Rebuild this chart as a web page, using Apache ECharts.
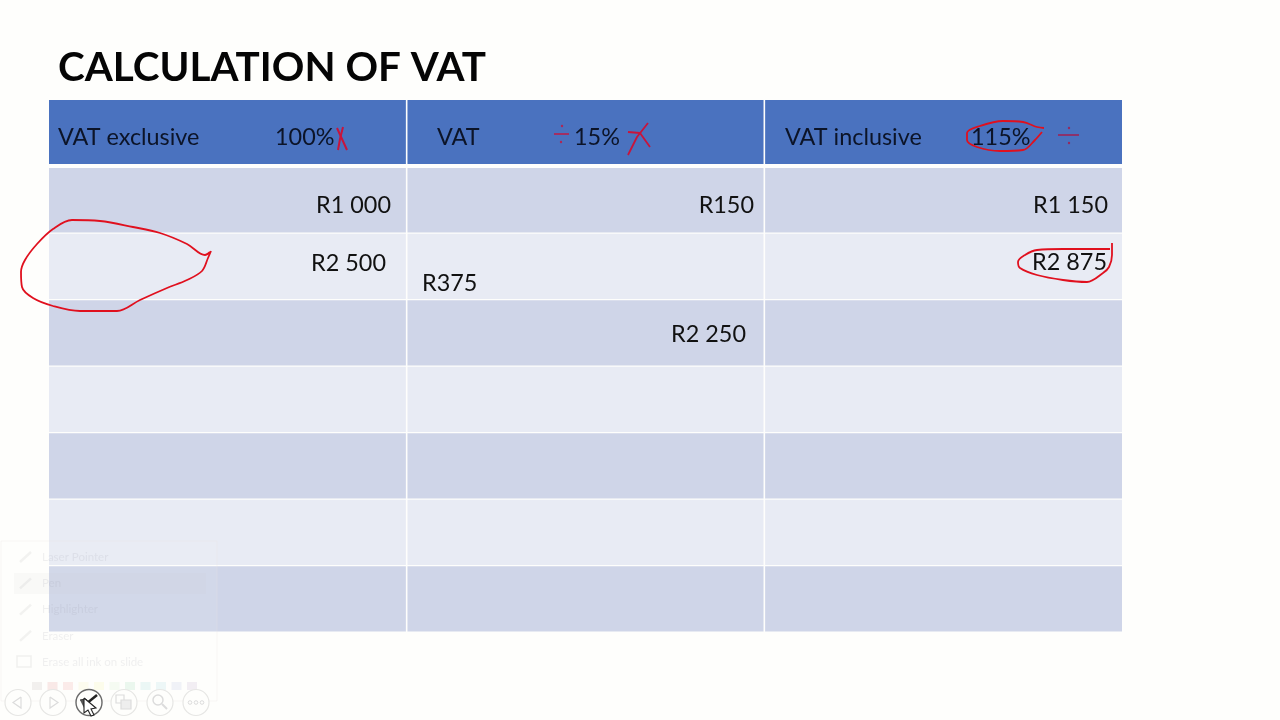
<!DOCTYPE html>
<html><head><meta charset="utf-8">
<style>html,body{margin:0;padding:0;background:#fefefc}#c{width:1280px;height:720px}</style>
<script src="https://cdn.jsdelivr.net/npm/echarts@6/dist/echarts.min.js"></script>
</head><body><div id="c"></div>
<script>
const titleText = 'CALCULATION OF VAT';
const columns = ['VAT exclusive', 'VAT', 'VAT inclusive'];
const rows = ['header', 'r1', 'r2', 'r3', 'r4', 'r5', 'r6', 'r7'];
const headerLabels = ['VAT exclusive', '100%', 'VAT', '15%', 'VAT inclusive', '115%'];
const amounts = ['R1 000', 'R150', 'R1 150', 'R2 500', 'R375', 'R2 875', 'R2 250'];
const headerAnchors = [[58,137],[275,137],[437,137],[574,137],[785,137],[971,137]];
const amountAnchors = [[391,205,'right'],[754,205,'right'],[1108,205,'right'],[386,263,'right'],[422,283,'left'],[1107,262,'right'],[746,334,'right']];
const bigLoop = [[210,252],[205,255],[187,244],[160,233],[133,227],[100,221],[72,220],[53,229],[37,244],[25,260],[21,272],[22,287],[33,298],[53,306],[80,311],[117,311],[140,300],[167,288],[187,280],[202,271],[208,258],[211,251]];
const loop115 = [[1044,128],[1037,127],[1023,122],[1003,121],[980,126],[967,133],[967,140],[977,147],[1000,151],[1023,150],[1035,140],[1042,132]];
const loop2875 = [[1112,243],[1112,255],[1109,267],[1103,273],[1087,282],[1063,280],[1037,275],[1020,268],[1018,262],[1025,255],[1037,250],[1063,249],[1110,249]];
const crossA1 = [[337,128],[342,139],[347,150]];
const crossA2 = [[343,127],[340,139],[338,150]];
const crossB1 = [[628,132],[640,133],[650,147]];
const crossB2 = [[648,123],[637,137],[628,155]];
const divA = [[554,134],[569,134]];
const divB = [[1058,135],[1079,135]];
const divDotsRed = [[562,126],[561,142]];
const divDotsDark = [[1069,128],[1069,143]];
const menuItems = ['Laser Pointer','Pen','Highlighter','Eraser','Erase all ink on slide'];
const swatches = ['#c8c0c0','#e8a0a0','#f0a8a8','#f8f0c0','#f8f8b0','#d8f0d0','#a8e0c0','#a8e0e0','#b0e0e8','#c0c8e8','#c8b8d8'];

const HEAD='#4a72bf', ODD='#cfd5e8', EVEN='#e8ebf4', INK='#e0101e', INKB='#c8143c';
const cells=[];
rows.forEach((r,ri)=>columns.forEach((c,ci)=>cells.push([ci,ri])));
const stroke=(d,color,w)=>({type:'line',xAxisIndex:1,yAxisIndex:1,data:d,smooth:d.length>3?0.35:false,showSymbol:false,silent:true,animation:false,z:6,lineStyle:{color:color,width:w||1.8}});
const font='Lato, Carlito, "Open Sans", sans-serif';
const textSeries=(texts,anch,color)=>({type:'custom',xAxisIndex:1,yAxisIndex:1,z:5,animation:false,silent:true,
  data:texts.map((t,i)=>[anch[i][0],anch[i][1],t,anch[i][2]||'left']),
  encode:{x:0,y:1},
  renderItem:(p,api)=>{const pt=api.coord([api.value(0),api.value(1)]);
    return {type:'text',style:{x:pt[0],y:pt[1],text:api.value(2),textAlign:api.value(3),textVerticalAlign:'middle',font:'23.4px '+font,fill:color}};}});

const gfx=[];
const FAINT='#e6e6e4';
gfx.push({type:'rect',shape:{x:1,y:541,width:216,height:160},style:{fill:'rgba(255,255,255,0.08)',stroke:'rgba(235,225,225,0.3)',lineWidth:1},z:20});
gfx.push({type:'rect',shape:{x:14,y:573,width:192,height:21},style:{fill:'rgba(200,200,205,0.09)'},z:20});
menuItems.forEach((m,i)=>gfx.push({type:'text',style:{x:42,y:557+i*26.3,text:m,font:'11.5px '+font,fill:'rgba(150,150,160,0.14)',textVerticalAlign:'middle'},z:21}));
[0,1,2,3].forEach(i=>gfx.push({type:'line',shape:{x1:20,y1:562+i*26.3,x2:31,y2:552+i*26.3},style:{stroke:'rgba(170,170,170,0.14)',lineWidth:2.5},z:21}));
gfx.push({type:'rect',shape:{x:17,y:656,width:14,height:11},style:{fill:'none',stroke:'rgba(170,170,170,0.16)',lineWidth:1.5},z:21});
swatches.forEach((s,i)=>gfx.push({type:'rect',shape:{x:32+i*15.5,y:682,width:10,height:8},style:{fill:s,opacity:0.22},z:20}));
[18,53,124,160,196].forEach(x=>gfx.push({type:'circle',shape:{cx:x,cy:702.5,r:13},style:{fill:'#fefefc',stroke:FAINT,lineWidth:1.2},z:22}));
gfx.push({type:'polyline',shape:{points:[[21,697],[13,702.5],[21,708],[21,697]]},style:{fill:'none',stroke:'#dcdcdc',lineWidth:1.2},z:23});
gfx.push({type:'polyline',shape:{points:[[50,697],[58,702.5],[50,708],[50,697]]},style:{fill:'none',stroke:'#dcdcdc',lineWidth:1.2},z:23});
gfx.push({type:'rect',shape:{x:116,y:695,width:8,height:8},style:{fill:'none',stroke:'#dcdcdc',lineWidth:1.2},z:23});
gfx.push({type:'rect',shape:{x:121,y:700,width:10,height:9},style:{fill:'#eee',stroke:'#dcdcdc',lineWidth:1.2},z:23});
gfx.push({type:'circle',shape:{cx:158,cy:700,r:5},style:{fill:'none',stroke:'#dcdcdc',lineWidth:1.5},z:23});
gfx.push({type:'line',shape:{x1:162,y1:704,x2:167,y2:709},style:{stroke:'#dcdcdc',lineWidth:2},z:23});
[190,196,202].forEach(x=>gfx.push({type:'circle',shape:{cx:x,cy:702.5,r:1.8},style:{fill:'none',stroke:'#dcdcdc',lineWidth:1},z:23}));
gfx.push({type:'circle',shape:{cx:89,cy:702.5,r:13},style:{fill:'#fefefc',stroke:'#6a6a6a',lineWidth:1.4},z:22});
gfx.push({type:'line',shape:{x1:86,y1:704,x2:97,y2:695},style:{stroke:'#222',lineWidth:2.5},z:23});
gfx.push({type:'polyline',shape:{points:[[80,700],[86,699],[90,707],[84,708]]},style:{fill:'#555',stroke:'#333',lineWidth:1},z:23});
gfx.push({type:'polyline',shape:{points:[[84,698],[84,713],[88,710],[91,716],[94,715],[91,709],[96,708],[84,698]]},style:{fill:'#fff',stroke:'#222',lineWidth:1.1},z:24});

const chart=echarts.init(document.getElementById('c'),null,{renderer:'canvas'});
chart.setOption({
  backgroundColor:'#fefefc',animation:false,
  title:{text:titleText,left:58,top:48,textStyle:{fontFamily:font,fontWeight:'bold',fontSize:40.4,color:'#050505'},padding:0},
  grid:[{left:49,top:100,width:1073,height:532},{left:0,top:0,width:1280,height:720}],
  xAxis:[{type:'category',gridIndex:0,data:columns,show:false},{type:'value',gridIndex:1,min:0,max:1280,show:false}],
  yAxis:[{type:'category',gridIndex:0,data:rows,inverse:true,show:false},{type:'value',gridIndex:1,min:0,max:720,inverse:true,show:false}],
  graphic:gfx,
  series:[
    {type:'custom',xAxisIndex:0,yAxisIndex:0,z:1,animation:false,silent:true,data:cells,encode:{x:0,y:1},
     renderItem:(p,api)=>{const ci=api.value(0),ri=api.value(1);const c=api.coord([ci,ri]);const s=api.size([1,1]);
       const top=c[1]-s[1]/2+(ri===0?0:ri===1?1.5:0.8),bot=c[1]+s[1]/2-(ri===0?2.5:0.4);
       const l=c[0]-s[0]/2+(ci===0?0:0.8),r=c[0]+s[0]/2-(ci===2?0:0.8);
       return {type:'rect',shape:{x:l,y:top,width:r-l,height:bot-top},style:{fill:ri===0?HEAD:(ri%2?ODD:EVEN)}};}},
    textSeries(headerLabels,headerAnchors,'#0c1428'),
    textSeries(amounts,amountAnchors,'#111111'),
    stroke(bigLoop,INK),stroke(loop115,INK),stroke(loop2875,INK),
    stroke(crossA1,INKB,2),stroke(crossA2,INKB,2),stroke(crossB1,INKB),stroke(crossB2,INKB),
    stroke(divA,INKB,1.4),stroke(divB,'#a81848',1.4),
    {type:'scatter',xAxisIndex:1,yAxisIndex:1,data:divDotsRed,symbolSize:2.4,z:6,silent:true,itemStyle:{color:INKB}},
    {type:'scatter',xAxisIndex:1,yAxisIndex:1,data:divDotsDark,symbolSize:2.4,z:6,silent:true,itemStyle:{color:'#a81848'}}
  ]
});
</script></body></html>
